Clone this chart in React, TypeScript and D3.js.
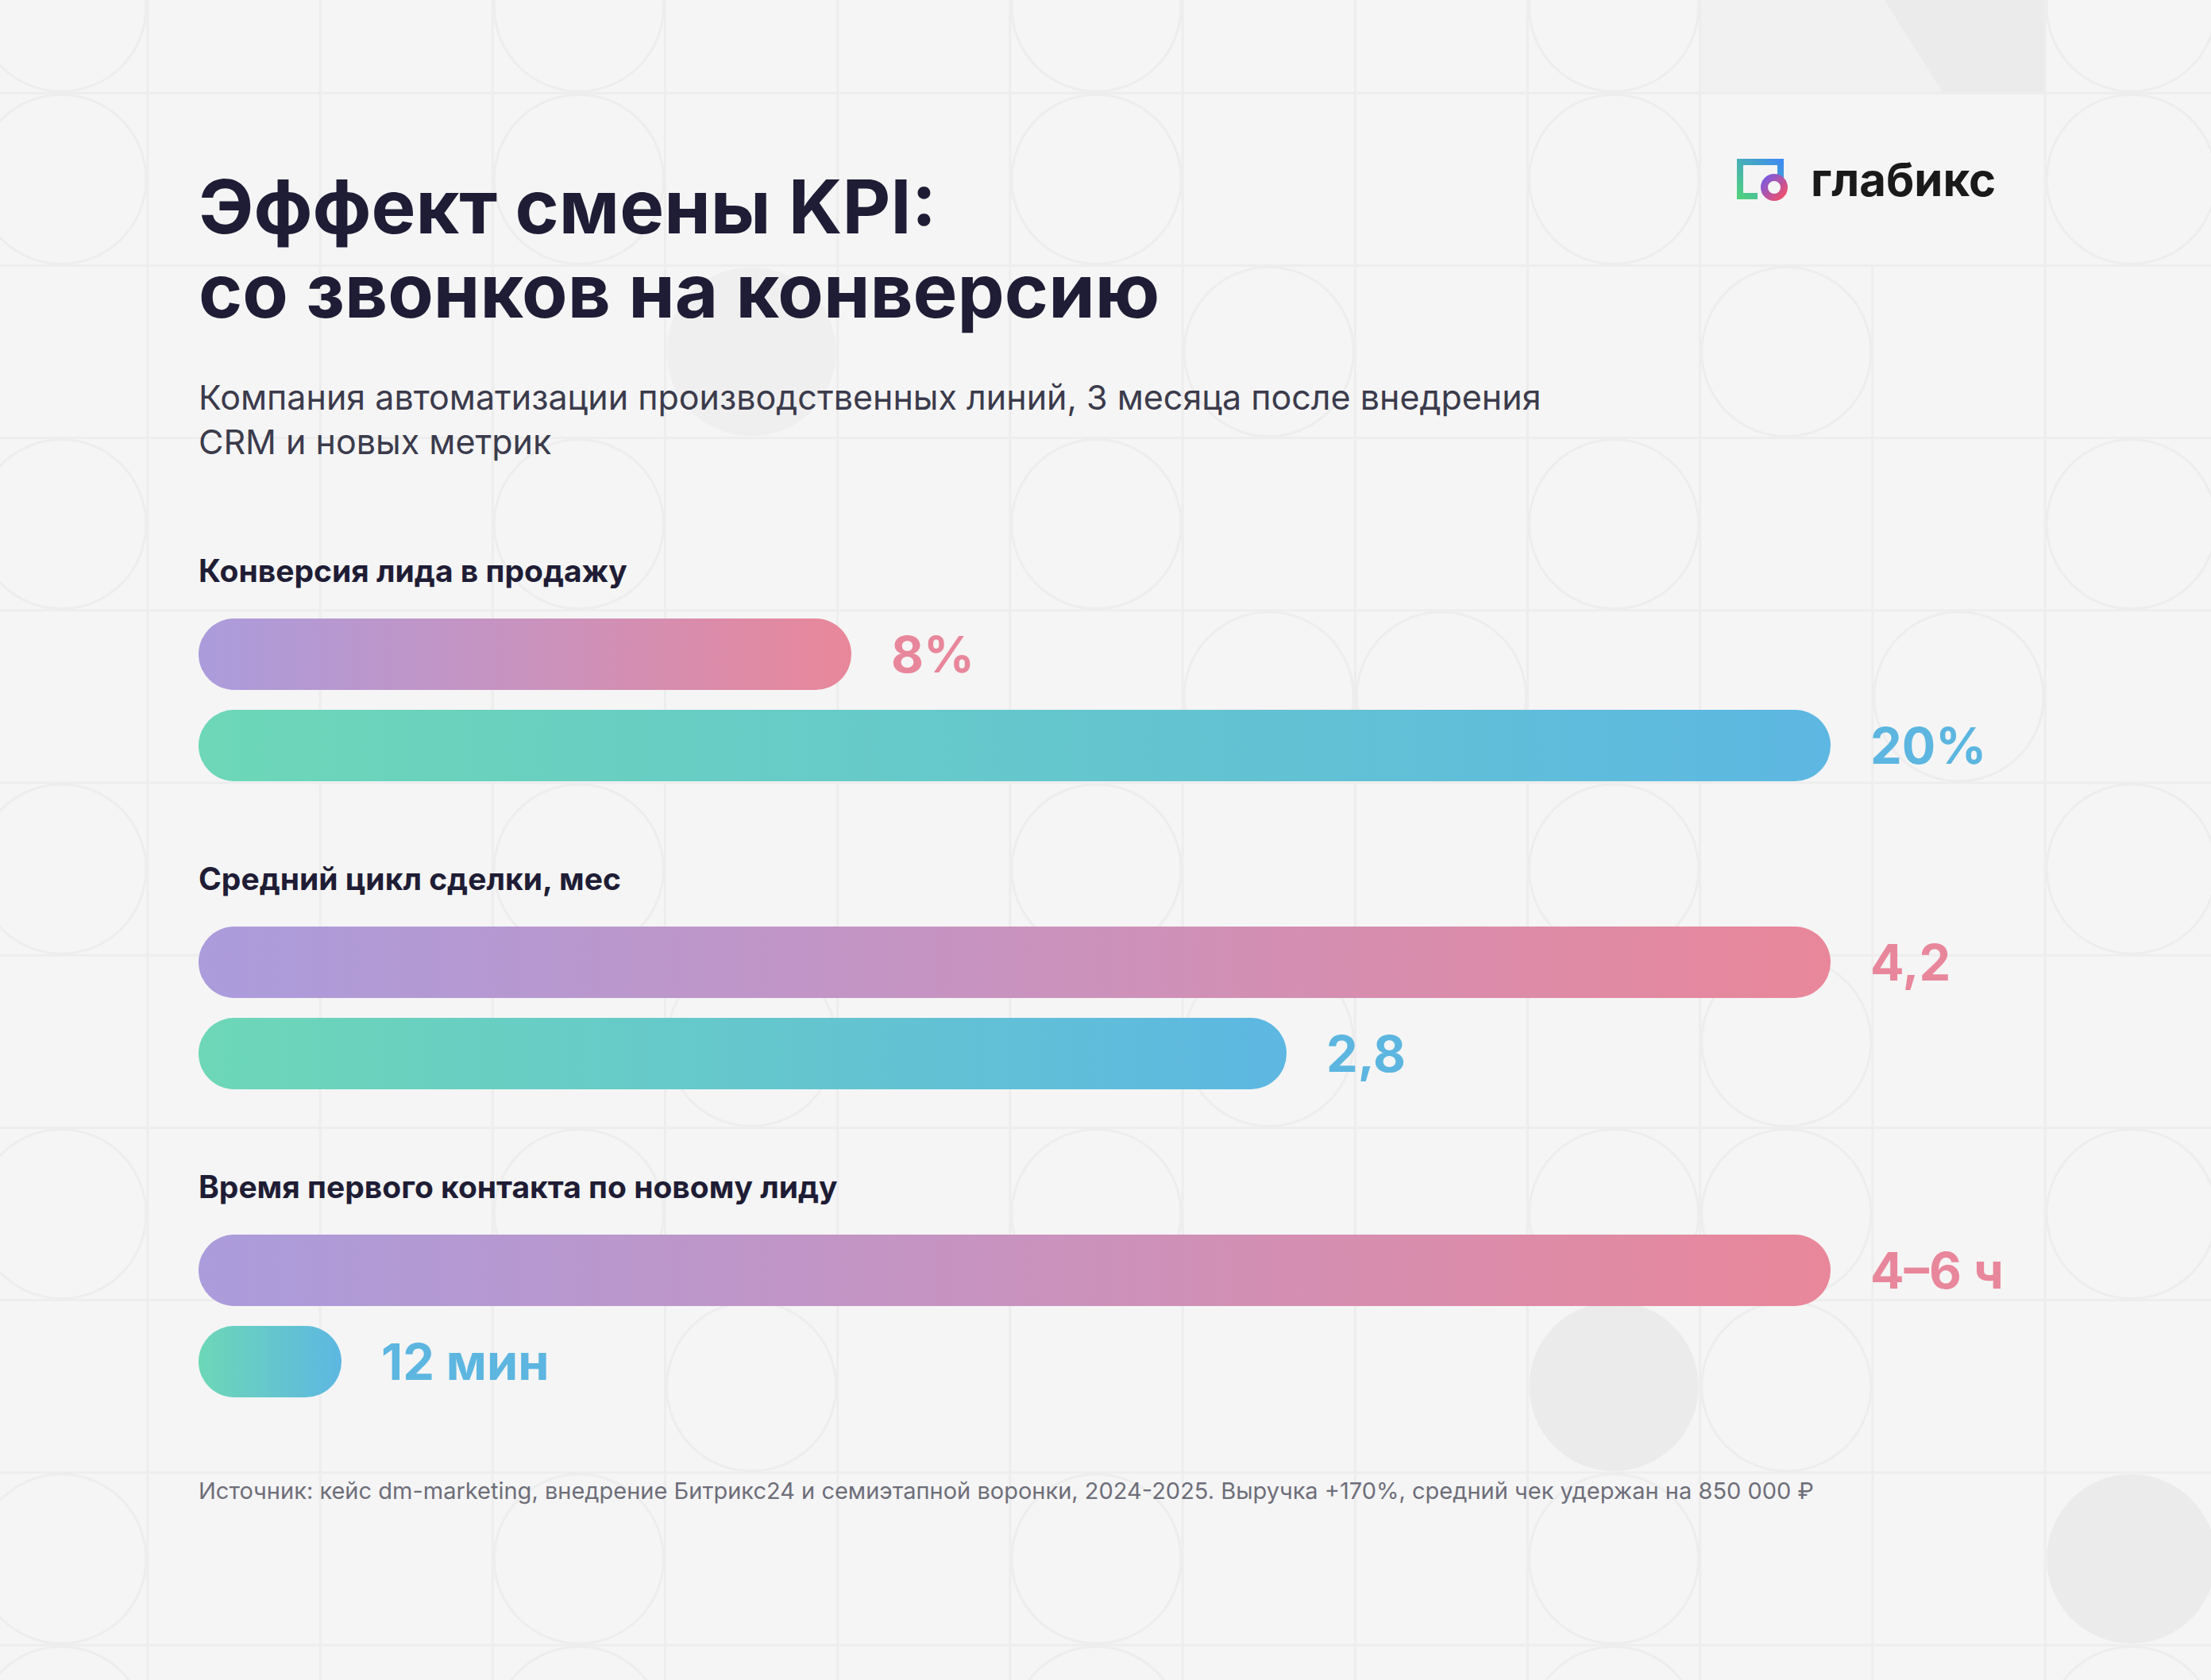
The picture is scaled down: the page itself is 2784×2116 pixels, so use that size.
import React from "react";
import * as d3 from "d3";

const W = 2784;
const H = 2116;

const titleLines = ["Эффект смены KPI:", "со звонков на конверсию"];
const subtitleLines = [
  "Компания автоматизации производственных линий, 3 месяца после внедрения",
  "CRM и новых метрик",
];
const groups = [
  "Конверсия лида в продажу",
  "Средний цикл сделки, мес",
  "Время первого контакта по новому лиду",
];
// before = pink bars, after = teal bars (time group in minutes)
const beforeValues = [8, 4.2, 300];
const afterValues = [20, 2.8, 12];
const beforeLabels = ["8%", "4,2", "4–6 ч"];
const afterLabels = ["20%", "2,8", "12 мин"];
const footnote =
  "Источник: кейс dm-marketing, внедрение Битрикс24 и семиэтапной воронки, 2024-2025. Выручка +170%, средний чек удержан на 850 000 ₽";

// decorative background grid: o = ring, f/F = filled disc
const patternRows = [
  "o..o..o..o..o",
  "o..o..o..o..o",
  "....f..o..o..",
  "o..o..o..o..o",
  ".......oo..o.",
  "o..o..o..o..o",
  "....o..o..o..",
  "o..o..o..oo.o",
  "....o....Fo..",
  "o..o..o..o..F",
  "o..o..o..o..o",
];

const FONT = "Inter, 'Noto Sans', sans-serif";
const INK = "#1f1d35";
const PINK = "#e8879b";
const BLUE = "#5cb6e0";

const left = 250;
const trackW = 2055;
const barH = 90;
const barGap = 25;

const Background: React.FC = () => {
  const cell = 217.2;
  const x0 = -31.3;
  const y0 = -100;
  const cols = d3.range(13).map((i) => x0 + i * cell);
  const rows = d3.range(patternRows.length).map((j) => y0 + j * cell);
  const line = "#ededed";
  return (
    <g>
      <rect width={W} height={H} fill="#f5f5f5" />
      {/* filled block top right */}
      <rect x={cols[10]} y={0} width={cell * 2} height={rows[1]} fill="#f1f1f1" />
      <polygon
        points={`${cols[10] + 232},0 ${cols[12]},0 ${cols[12]},${rows[1]} ${cols[10] + 306},${rows[1]}`}
        fill="#ebebeb"
      />
      {rows.slice(1).map((y, j) => (
        <line key={"h" + j} x1={0} x2={W} y1={y} y2={y} stroke={line} strokeWidth={3} />
      ))}
      {cols.slice(1).map((x, i) =>
        i + 1 === 11 ? (
          <line key={"v" + i} x1={x} x2={x} y1={rows[2]} y2={H} stroke={line} strokeWidth={3} />
        ) : (
          <line key={"v" + i} x1={x} x2={x} y1={0} y2={H} stroke={line} strokeWidth={3} />
        )
      )}
      {patternRows.map((row, j) =>
        row.split("").map((c, i) => {
          const cx = cols[i] + cell / 2;
          const cy = rows[j] + cell / 2;
          if (c === "o")
            return <circle key={`${i}-${j}`} cx={cx} cy={cy} r={cell / 2 - 2} fill="none" stroke={line} strokeWidth={3} />;
          if (c === "f")
            return <circle key={`${i}-${j}`} cx={cx} cy={cy} r={cell / 2 - 2} fill="#efefef" />;
          if (c === "F")
            return <circle key={`${i}-${j}`} cx={cx} cy={cy} r={cell / 2 - 2} fill="#ebebeb" />;
          return null;
        })
      )}
    </g>
  );
};

const Logo: React.FC = () => (
  <g>
    <path d="M2213,247 H2191 V204 H2242 V224" fill="none" stroke="url(#logoSq)" strokeWidth={8} />
    <circle cx={2234} cy={236} r={12.5} fill="none" stroke="url(#logoRing)" strokeWidth={9} />
    <text x={2280} y={247} fontFamily={FONT} fontWeight={700} fontSize={58} fill="#1a1a1a">
      глабикс
    </text>
  </g>
);

const App: React.FC = () => {
  const groupY = d3.scaleBand<string>().domain(groups).range([686, 686 + 388 * groups.length]);

  return (
    <svg
      width={W}
      height={H}
      viewBox={`0 0 ${W} ${H}`}
      style={{ position: "absolute", left: 0, top: 0, display: "block" }}
    >
      <defs>
        <linearGradient id="gBefore" x1="0" x2="1" y1="0" y2="0">
          <stop offset="0" stopColor="#ab9cdc" />
          <stop offset="0.5" stopColor="#c993bf" />
          <stop offset="1" stopColor="#e9879a" />
        </linearGradient>
        <linearGradient id="gAfter" x1="0" x2="1" y1="0" y2="0">
          <stop offset="0" stopColor="#6dd7b7" />
          <stop offset="1" stopColor="#5db7e2" />
        </linearGradient>
        <linearGradient id="logoSq" x1="0" x2="1" y1="1" y2="0">
          <stop offset="0" stopColor="#4fd07f" />
          <stop offset="1" stopColor="#3f8cf0" />
        </linearGradient>
        <linearGradient id="logoRing" x1="0" x2="1" y1="0" y2="1">
          <stop offset="0" stopColor="#7a5ae0" />
          <stop offset="1" stopColor="#f0506a" />
        </linearGradient>
      </defs>

      <Background />
      <Logo />

      {titleLines.map((t, i) => (
        <text key={t} x={left} y={294 + i * 106} fontFamily={FONT} fontWeight={700} fontSize={94} fill={INK}>
          {t}
        </text>
      ))}
      {subtitleLines.map((t, i) => (
        <text key={t} x={left} y={516 + i * 56} fontFamily={FONT} fontWeight={400} fontSize={43} fill="#3b3b4c">
          {t}
        </text>
      ))}

      {groups.map((g, i) => {
        const top = groupY(g) as number;
        const max = Math.max(beforeValues[i], afterValues[i]);
        const x = d3.scaleLinear().domain([0, max]).range([0, trackW]);
        const bars = [
          { v: beforeValues[i], label: beforeLabels[i], fill: "url(#gBefore)", color: PINK },
          { v: afterValues[i], label: afterLabels[i], fill: "url(#gAfter)", color: BLUE },
        ];
        return (
          <g key={g}>
            <text x={left} y={top + 47} fontFamily={FONT} fontWeight={700} fontSize={39} fill={INK}>
              {g}
            </text>
            {bars.map((b, k) => {
              const w = Math.max(x(b.v), barH * 2);
              const y = top + 93 + k * (barH + barGap);
              return (
                <g key={k}>
                  <rect x={left} y={y} width={w} height={barH} rx={barH / 2} fill={b.fill} />
                  <text
                    x={left + w + 50}
                    y={y + barH / 2}
                    dy="0.36em"
                    fontFamily={FONT}
                    fontWeight={700}
                    fontSize={63}
                    fill={b.color}
                  >
                    {b.label}
                  </text>
                </g>
              );
            })}
          </g>
        );
      })}

      <text x={left} y={1888} fontFamily={FONT} fontWeight={400} fontSize={29} fill="#6e6e7a">
        {footnote}
      </text>
    </svg>
  );
};

export default App;
